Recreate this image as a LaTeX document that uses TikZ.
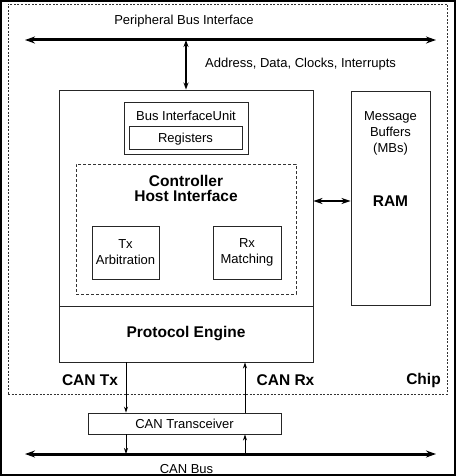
\documentclass[tikz,border=0pt]{standalone}
\usepackage{fontspec}
\setmainfont{Liberation Sans}
\usetikzlibrary{arrows.meta}
\begin{document}
\begin{tikzpicture}[x=1pt,y=-1pt,
  frame/.style={draw=black!85,line width=0.9pt},
  box/.style={frame,inner sep=0pt,align=center},
  txt/.style={font=\fontsize{13}{16}\selectfont,align=center,inner sep=0pt},
  btxt/.style={font=\fontsize{15.5}{15}\selectfont\bfseries,align=center,inner sep=0pt},
  bus/.style={line width=3pt,{Stealth[length=10pt,width=7pt]}-{Stealth[length=10pt,width=7pt]}},
  sig/.style={line width=0.9pt,-{Stealth[length=6pt,width=4pt]}},
]
\useasboundingbox (0,0) rectangle (456,476);
\draw[line width=1.2pt] (1,1) rectangle (455,475);
% chip boundary
\node[draw=black!80,dashed,dash pattern=on 2pt off 1.5pt,line width=0.6pt,minimum width=439pt,minimum height=390pt,inner sep=0pt] (chip) at (227.5,199) {};
\node[btxt] (chiplbl) at (423.5,380) {Chip};
% peripheral bus
\coordinate (pbL) at (25,40);
\coordinate (pbR) at (436,40);
\coordinate (pbA) at (186,40);
\draw[bus] (pbL) -- (pbR);
\node[txt] (pbtxt) at (184,21.5) {Peripheral Bus Interface};
% controller
\node[box,minimum width=254pt,minimum height=216pt] (ctrl) at (186,198) {};
\node[box,minimum width=254pt,minimum height=56pt,btxt] (pe) at (186,334) {Protocol Engine};
\draw[line width=1.8pt,{Stealth[length=7pt,width=5pt]}-{Stealth[length=7pt,width=5pt]}] (pbA) -- (ctrl.north);
\node[txt,anchor=west] (addr) at (205,64) {Address, Data, Clocks, Interrupts};
% BIU
\node[box,minimum width=124pt,minimum height=52pt] (biu) at (186,128) {};
\node[txt] (biutxt) at (186,116) {Bus InterfaceUnit};
\node[box,minimum width=113pt,minimum height=23pt] (reg) at (185.5,137.5) {};
\node[txt] (regtxt) at (185.5,139) {Registers};
% CHI
\node[draw=black!80,dashed,dash pattern=on 3pt off 2pt,line width=0.8pt,minimum width=220pt,minimum height=130pt,inner sep=0pt] (chi) at (186,229) {};
\node[btxt] (chitxt) at (186,188) {Controller\\Host Interface};
\node[box,txt,minimum width=67pt,minimum height=53pt] (txarb) at (125.5,252.5) {Tx\\Arbitration};
\node[box,txt,minimum width=68pt,minimum height=53pt] (rxm) at (247,252.5) {Rx\\Matching};
% Message buffers
\node[box,minimum width=79pt,minimum height=214pt] (mb) at (390.5,198) {};
\node[txt] (mbtxt) at (390.5,133.5) {Message\\Buffers\\(MBs)};
\node[btxt] (ram) at (390.5,201) {RAM};
\draw[line width=2.5pt,{Stealth[length=9pt,width=6pt]}-{Stealth[length=9pt,width=6pt]}] (ctrl.east |- ram) -- (mb.west |- ram);
% transceiver and CAN bus
\node[box,txt,minimum width=193pt,minimum height=21pt] (trx) at (184.5,423.5) {CAN Transceiver};
\coordinate (txc) at (126,454);
\coordinate (rxc) at (245,454);
\coordinate (cbL) at (25,454);
\coordinate (cbR) at (436,454);
\draw[bus] (cbL) -- (cbR);
\draw[sig] (pe.south -| txc) -- (trx.north -| txc);
\draw[sig] (trx.south -| txc) -- (txc);
\draw[sig] (rxc) -- (trx.south -| rxc);
\draw[sig] (trx.north -| rxc) -- (pe.south -| rxc);
\node[btxt] (cantx) at (90,380) {CAN Tx};
\node[btxt] (canrx) at (285.5,380) {CAN Rx};
\node[txt] (canbus) at (186.5,469) {CAN Bus};
\end{tikzpicture}
\end{document}
